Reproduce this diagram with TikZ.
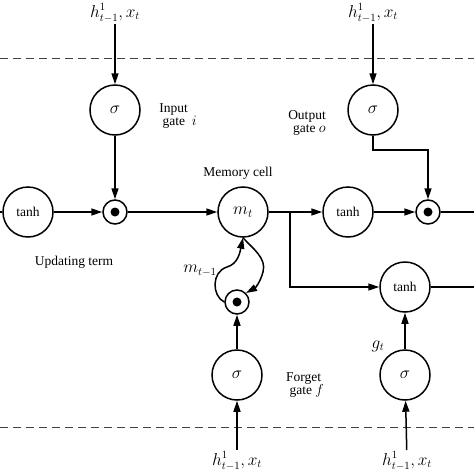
\documentclass[tikz,border=0pt]{standalone}
\usepackage{fontspec}
\setmainfont{Liberation Serif}
\usetikzlibrary{arrows.meta}

\begin{document}
\begin{tikzpicture}[x=1pt,y=-1pt,->,>={Triangle[length=11pt,width=7pt]},
      line width=1.5pt,font=\fontsize{13.5}{15}\selectfont,
      main node/.style={circle,draw,line width=1.5pt,minimum size=50pt,inner sep=0pt},
      math node/.style={main node,font=\fontsize{17}{19}\selectfont},
      dot node/.style={circle,draw,line width=1.5pt,minimum size=24pt,inner sep=0pt,
        path picture={\fill (path picture bounding box.center) circle (4.5pt);}},
      plain/.style={draw=none,inner sep=1pt},
      in label/.style={plain,font=\fontsize{16}{18}\selectfont},
      sep line/.style={-,dashed,dash pattern=on 8pt off 5pt,line width=1pt,draw=black!75}]

      \useasboundingbox (0,0) rectangle (474,474);

      %% THESE ARE THE NODES.
      \node[math node] (sigI) at (115,110) {$\sigma$};
      \node[math node] (sigO) at (373,110) {$\sigma$};
      \node[main node] (tanhL) at (28,212) {tanh};
      \node[dot node] (dotI) at (115,212) {};
      \node[math node] (mt) at (243,212) {$m_t$};
      \node[main node] (tanhC) at (348,212) {tanh};
      \node[dot node] (dotO) at (428,212) {};
      \node[main node] (tanhR) at (405,287) {tanh};
      \node[dot node] (dotF) at (237,302) {};
      \node[math node] (sigF) at (237,375) {$\sigma$};
      \node[math node] (sigG) at (405,375) {$\sigma$};

      %% INPUTS AND TEXT LABELS
      \node[in label] (inI) at (115,13) {$h_{t-1}^{1},x_t$};
      \node[in label] (inO) at (373,13) {$h_{t-1}^{1},x_t$};
      \node[in label] (inF) at (237,461) {$h_{t-1}^{1},x_t$};
      \node[in label] (inG) at (407,461) {$h_{t-1}^{1},x_t$};
      \node[plain,align=left] (lblI) at (178,116) {Input\\[-2pt]\ gate \ $i$};
      \node[plain,align=right] (lblO) at (307,123) {Output\\[-2pt]gate $o$};
      \node[plain,align=left] (lblF) at (305,385) {Forget\\[-2pt]\ gate $f$};
      \node[plain] (lblM) at (238,173) {Memory cell};
      \node[plain] (lblU) at (74,262) {Updating term};
      \node[in label] (lblm) at (200,271) {$m_{t-1}$};
      \node[in label] (lblg) at (378,346) {$g_t$};

      \coordinate (inL) at (0,212);
      \coordinate (outC) at (474,212);
      \coordinate (outR) at (474,287);
      \coordinate (br) at (290,212);
      \coordinate (brD) at (290,287);

      %% DASHED SEPARATORS
      \draw[sep line] (0,58) -- (474,58);
      \draw[sep line] (0,427) -- (474,427);

      %% THESE ARE THE EDGES.
      \draw (inI) -- (sigI);
      \draw (inO) -- (sigO);
      \draw (inF) -- (sigF);
      \draw (inG) -- (sigG);
      \draw (sigI) -- (dotI);
      \draw (sigO.south) |- (428,150) -- (dotO);
      \draw[-] (inL) -- (tanhL);
      \draw (tanhL) -- (dotI);
      \draw (dotI) -- (mt);
      \draw[-] (mt) -- (br);
      \draw (br) -- (tanhC);
      \draw (tanhC) -- (dotO);
      \draw[-] (dotO) -- (outC);
      \draw (br) -- (brD) -- (tanhR);
      \draw[-] (tanhR) -- (outR);
      \draw (sigF) -- (dotF);
      \draw (sigG) -- (tanhR);
      \draw (dotF.west) .. controls (212,296) and (211,272) .. (227,267)
            .. controls (238,264) and (240,252) .. (mt.south);
      \draw (mt.south) .. controls (252,248) and (267,258) .. (263,272)
            .. controls (260,283) and (255,288) .. (dotF.north east);
    \end{tikzpicture}
\end{document}
